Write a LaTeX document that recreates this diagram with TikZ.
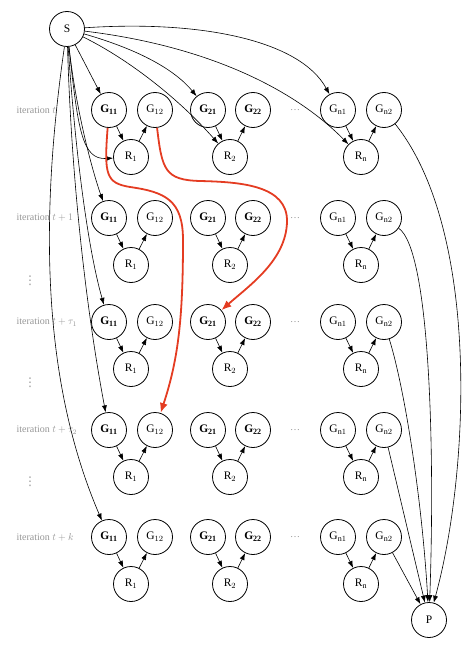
\documentclass[tikz,border=0pt]{standalone}
\usepackage{fontspec}
\setmainfont{Liberation Serif}
\newfontfamily\symfont{DejaVu Sans}
\usetikzlibrary{arrows.meta}
\definecolor{pathred}{RGB}{228,60,34}
\definecolor{labelgray}{RGB}{150,150,150}
\begin{document}
\begin{tikzpicture}[x=1pt, y=-1pt, >={Latex[length=7pt,width=5pt]}]
    \tikzset{vertex/.style = {shape=circle, draw, line width=0.8pt, minimum size=35pt, inner sep=0pt,
                              font=\fontsize{11.5}{13}\selectfont},
             iter/.style = {anchor=west, text=labelgray},
             vdot/.style = {text=labelgray, inner sep=0pt, font=\symfont\fontsize{12}{12}\selectfont},
             link/.style = {->, line width=0.6pt},
             hot/.style = {->, draw=pathred, fill=none, line width=1.8pt, >={Latex[length=10pt,width=8pt]}}}
    \useasboundingbox (0,0) rectangle (474,650);

    \node[vertex] (S) at (67,29) {S};
    \node[vertex] (P) at (429,620) {P};

    % one row of groups per iteration
    \foreach \r/\y in {a/110, b/218, c/322, d/430, e/537} {
        \node[vertex] (G11\r) at (109,\y) {\textbf{G}$_{\mathbf{11}}$};
        \node[vertex] (G12\r) at (155,\y) {G$_{12}$};
        \node[vertex] (R1\r) at (131,\y+47) {R$_1$};
        \node[vertex] (G21\r) at (208,\y) {\textbf{G}$_{\mathbf{21}}$};
        \node[vertex] (G22\r) at (253,\y) {\textbf{G}$_{\mathbf{22}}$};
        \node[vertex] (R2\r) at (230,\y+47) {R$_2$};
        \node[text=labelgray] (dots\r) at (295,\y) {\dots};
        \node[vertex] (Gn1\r) at (338,\y) {G$_{\mathrm{n}1}$};
        \node[vertex] (Gn2\r) at (384,\y) {G$_{\mathrm{n}2}$};
        \node[vertex] (Rn\r) at (361,\y+47) {R$_\mathrm{n}$};

        \draw[link] (G11\r) -- (R1\r);
        \draw[link] (R1\r) -- (G12\r);
        \draw[link] (G21\r) -- (R2\r);
        \draw[link] (R2\r) -- (G22\r);
        \draw[link] (Gn1\r) -- (Rn\r);
        \draw[link] (Rn\r) -- (Gn2\r);
    }

    % iteration labels
    \node[iter] (la) at (13,110) {iteration $t$};
    \node[iter] (lb) at (13,218) {iteration $t+1$};
    \node[iter] (lc) at (13,322) {iteration $t+\tau_1$};
    \node[iter] (ld) at (13,430) {iteration $t+\tau_2$};
    \node[iter] (le) at (13,537) {iteration $t+k$};
    \node[vdot] (va) at (30,281) {⋮};
    \node[vdot] (vb) at (30,383) {⋮};
    \node[vdot] (vc) at (30,482) {⋮};

    % from S
    \draw[link] (S) -- (G11a);
    \draw[link] (S) .. controls (78,130) and (82,160) .. (R1a);
    \draw[link] (S) .. controls (76,110) and (92,170) .. (G11b);
    \draw[link] (S) .. controls (75,150) and (88,250) .. (G11c);
    \draw[link] (S) .. controls (72,200) and (90,330) .. (G11d);
    \draw[link] (S) .. controls (35,250) and (50,400) .. (G11e);
    \draw[link] (S) .. controls (140,50) and (175,70) .. (G21a);
    \draw[link] (S) .. controls (130,60) and (180,100) .. (R2a);
    \draw[link] (S) .. controls (200,20) and (300,40) .. (Gn1a);
    \draw[link] (S) .. controls (200,45) and (290,85) .. (Rna);

    % into P
    \draw[link] (Gn2a) .. controls (480,230) and (470,470) .. (P);
    \draw[link] (Gn2b) .. controls (430,250) and (435,450) .. (P);
    \draw[link] (Gn2c) .. controls (405,390) and (422,500) .. (P);
    \draw[link] (Gn2d) -- (P);
    \draw[link] (Gn2e) -- (P);

    % highlighted paths
    \draw[hot] (G11a) .. controls (104,175) and (106,183) .. (130,187)
        .. controls (165,192) and (183,200) .. (183,240)
        .. controls (183,320) and (178,360) .. (G12d);
    \draw[hot] (G12a) .. controls (162,170) and (165,180) .. (200,181)
        .. controls (240,182) and (288,185) .. (287,222)
        .. controls (286,260) and (250,285) .. (G21c);
\end{tikzpicture}
\end{document}
